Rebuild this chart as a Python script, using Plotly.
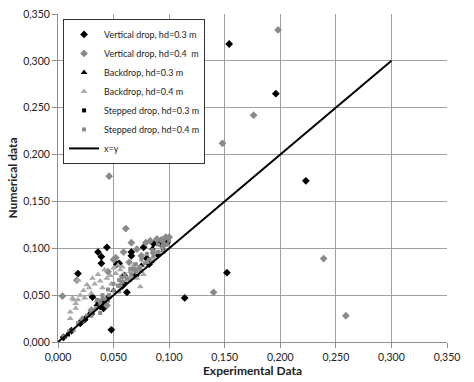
import plotly.graph_objects as go

# ---- data ----
vd03_x = [0.154, 0.196, 0.223, 0.107, 0.152, 0.114, 0.048, 0.044, 0.036, 0.039, 0.039, 0.018, 0.053, 0.031,
          0.066, 0.066, 0.055, 0.077, 0.086, 0.092, 0.098, 0.080, 0.062, 0.041, 0.005, 0.020, 0.024, 0.038,
          0.012, 0.030, 0.070, 0.082, 0.090, 0.058, 0.045]
vd03_y = [0.318, 0.265, 0.172, 0.202, 0.074, 0.047, 0.013, 0.101, 0.096, 0.091, 0.084, 0.073, 0.083, 0.048,
          0.096, 0.092, 0.084, 0.101, 0.105, 0.105, 0.106, 0.089, 0.053, 0.036, 0.005, 0.020, 0.024, 0.038,
          0.012, 0.030, 0.071, 0.083, 0.093, 0.060, 0.047]

vd04_x = [0.198, 0.176, 0.148, 0.239, 0.259, 0.140, 0.046, 0.004, 0.061, 0.066, 0.059, 0.050, 0.017, 0.079,
          0.089, 0.097, 0.100, 0.052, 0.083, 0.093, 0.071, 0.075, 0.064, 0.045, 0.058, 0.068, 0.086, 0.095,
          0.040, 0.030, 0.022, 0.056, 0.072, 0.036, 0.044]
vd04_y = [0.333, 0.242, 0.212, 0.089, 0.028, 0.053, 0.177, 0.049, 0.121, 0.106, 0.096, 0.088, 0.066, 0.106,
          0.110, 0.112, 0.112, 0.090, 0.108, 0.109, 0.099, 0.092, 0.085, 0.075, 0.070, 0.078, 0.095, 0.103,
          0.045, 0.034, 0.024, 0.060, 0.077, 0.043, 0.039]

bd03_x = [0.085, 0.060, 0.035, 0.075, 0.095, 0.028, 0.050]
bd03_y = [0.100, 0.072, 0.040, 0.082, 0.098, 0.030, 0.055]

bd04_x = [0.018, 0.011, 0.016, 0.014, 0.013, 0.016, 0.018, 0.026, 0.031, 0.036, 0.042, 0.050, 0.054, 0.062,
          0.071, 0.077, 0.074, 0.056, 0.052, 0.011, 0.020, 0.023, 0.028, 0.033, 0.038, 0.044, 0.047, 0.058,
          0.065, 0.068, 0.080, 0.085, 0.090, 0.024, 0.030, 0.040, 0.048, 0.060, 0.066, 0.072]
bd04_y = [0.066, 0.032, 0.041, 0.045, 0.047, 0.036, 0.045, 0.061, 0.068, 0.072, 0.077, 0.079, 0.082, 0.066,
          0.068, 0.072, 0.059, 0.077, 0.073, 0.025, 0.050, 0.055, 0.058, 0.062, 0.065, 0.068, 0.071, 0.080,
          0.075, 0.082, 0.085, 0.090, 0.096, 0.047, 0.052, 0.058, 0.062, 0.064, 0.070, 0.074]

sd03_x = [0.020, 0.025, 0.040, 0.042, 0.038, 0.060, 0.009]
sd03_y = [0.021, 0.025, 0.041, 0.044, 0.040, 0.062, 0.008]

sd04_x = [0.005, 0.010, 0.014, 0.018, 0.022, 0.026, 0.030, 0.034, 0.038, 0.042, 0.046, 0.050, 0.054, 0.058,
          0.062, 0.066, 0.070, 0.074, 0.078, 0.082, 0.086, 0.090, 0.094, 0.098, 0.100,
          0.035, 0.040, 0.045, 0.050, 0.055, 0.060, 0.065, 0.070, 0.075, 0.080, 0.085, 0.090, 0.095,
          0.030, 0.045, 0.055, 0.065, 0.075, 0.085, 0.095, 0.038, 0.043]
sd04_y = [0.006, 0.011, 0.013, 0.020, 0.023, 0.028, 0.031, 0.036, 0.041, 0.046, 0.050, 0.055, 0.060, 0.064,
          0.068, 0.072, 0.076, 0.080, 0.084, 0.088, 0.092, 0.096, 0.100, 0.104, 0.108,
          0.045, 0.050, 0.056, 0.062, 0.066, 0.072, 0.078, 0.083, 0.088, 0.094, 0.098, 0.104, 0.108,
          0.028, 0.044, 0.054, 0.066, 0.076, 0.086, 0.096, 0.031, 0.040]

line_x = [0.0, 0.3]
line_y = [0.0, 0.3]

tick_vals = [0.0, 0.05, 0.10, 0.15, 0.20, 0.25, 0.30, 0.35]
tick_text = ["0,000", "0,050", "0,100", "0,150", "0,200", "0,250", "0,300", "0,350"]

FONT = "Lato, Open Sans, sans-serif"
DARK = "#8a8a8a"
LIGHT = "#a8a8a8"

fig = go.Figure()
fig.add_trace(go.Scatter(x=vd03_x, y=vd03_y, mode="markers", name="Vertical drop, hd=0.3 m",
                         marker=dict(symbol="diamond", size=6, color="black")))
fig.add_trace(go.Scatter(x=vd04_x, y=vd04_y, mode="markers", name="Vertical drop, hd=0.4  m",
                         marker=dict(symbol="diamond", size=6, color=DARK)))
fig.add_trace(go.Scatter(x=bd03_x, y=bd03_y, mode="markers", name="Backdrop, hd=0.3 m",
                         marker=dict(symbol="triangle-up", size=6, color="black")))
fig.add_trace(go.Scatter(x=bd04_x, y=bd04_y, mode="markers", name="Backdrop, hd=0.4 m",
                         marker=dict(symbol="triangle-up", size=6, color=LIGHT)))
fig.add_trace(go.Scatter(x=sd03_x, y=sd03_y, mode="markers", name="Stepped drop, hd=0.3 m",
                         marker=dict(symbol="square", size=4, color="black")))
fig.add_trace(go.Scatter(x=sd04_x, y=sd04_y, mode="markers", name="Stepped drop, hd=0.4 m",
                         marker=dict(symbol="square", size=4, color=DARK)))
fig.add_trace(go.Scatter(x=line_x, y=line_y, mode="lines", name="x=y",
                         line=dict(color="black", width=2)))

axis_common = dict(
    tickvals=tick_vals, ticktext=tick_text, range=[0, 0.35],
    showgrid=True, gridcolor="#a0a0a0", gridwidth=1,
    showline=True, linecolor="#909090", linewidth=1, mirror=False,
    ticks="outside", ticklen=5, tickcolor="#909090",
    tickfont=dict(family=FONT, size=10.5, color="#222"),
    zeroline=False, automargin=False,
)

fig.update_layout(
    width=474, height=382,
    margin=dict(l=58, r=27, t=14, b=40),
    paper_bgcolor="white", plot_bgcolor="white",
    font=dict(family=FONT, color="#222"),
    showlegend=True,
    legend=dict(x=0.013, y=0.985, xanchor="left", yanchor="top",
                bgcolor="white", bordercolor="#333", borderwidth=1,
                font=dict(family=FONT, size=9, color="#222"),
                itemwidth=30, tracegroupgap=0),
    xaxis=dict(**axis_common,
               title=dict(text="<b>Experimental Data</b>", font=dict(family=FONT, size=12), standoff=4)),
    yaxis=dict(**axis_common,
               title=dict(text="<b>Numerical data</b>", font=dict(family=FONT, size=12), standoff=2)),
)

fig.write_html("out.html", config={"displayModeBar": False},
               post_script="document.body.style.margin='0';")
